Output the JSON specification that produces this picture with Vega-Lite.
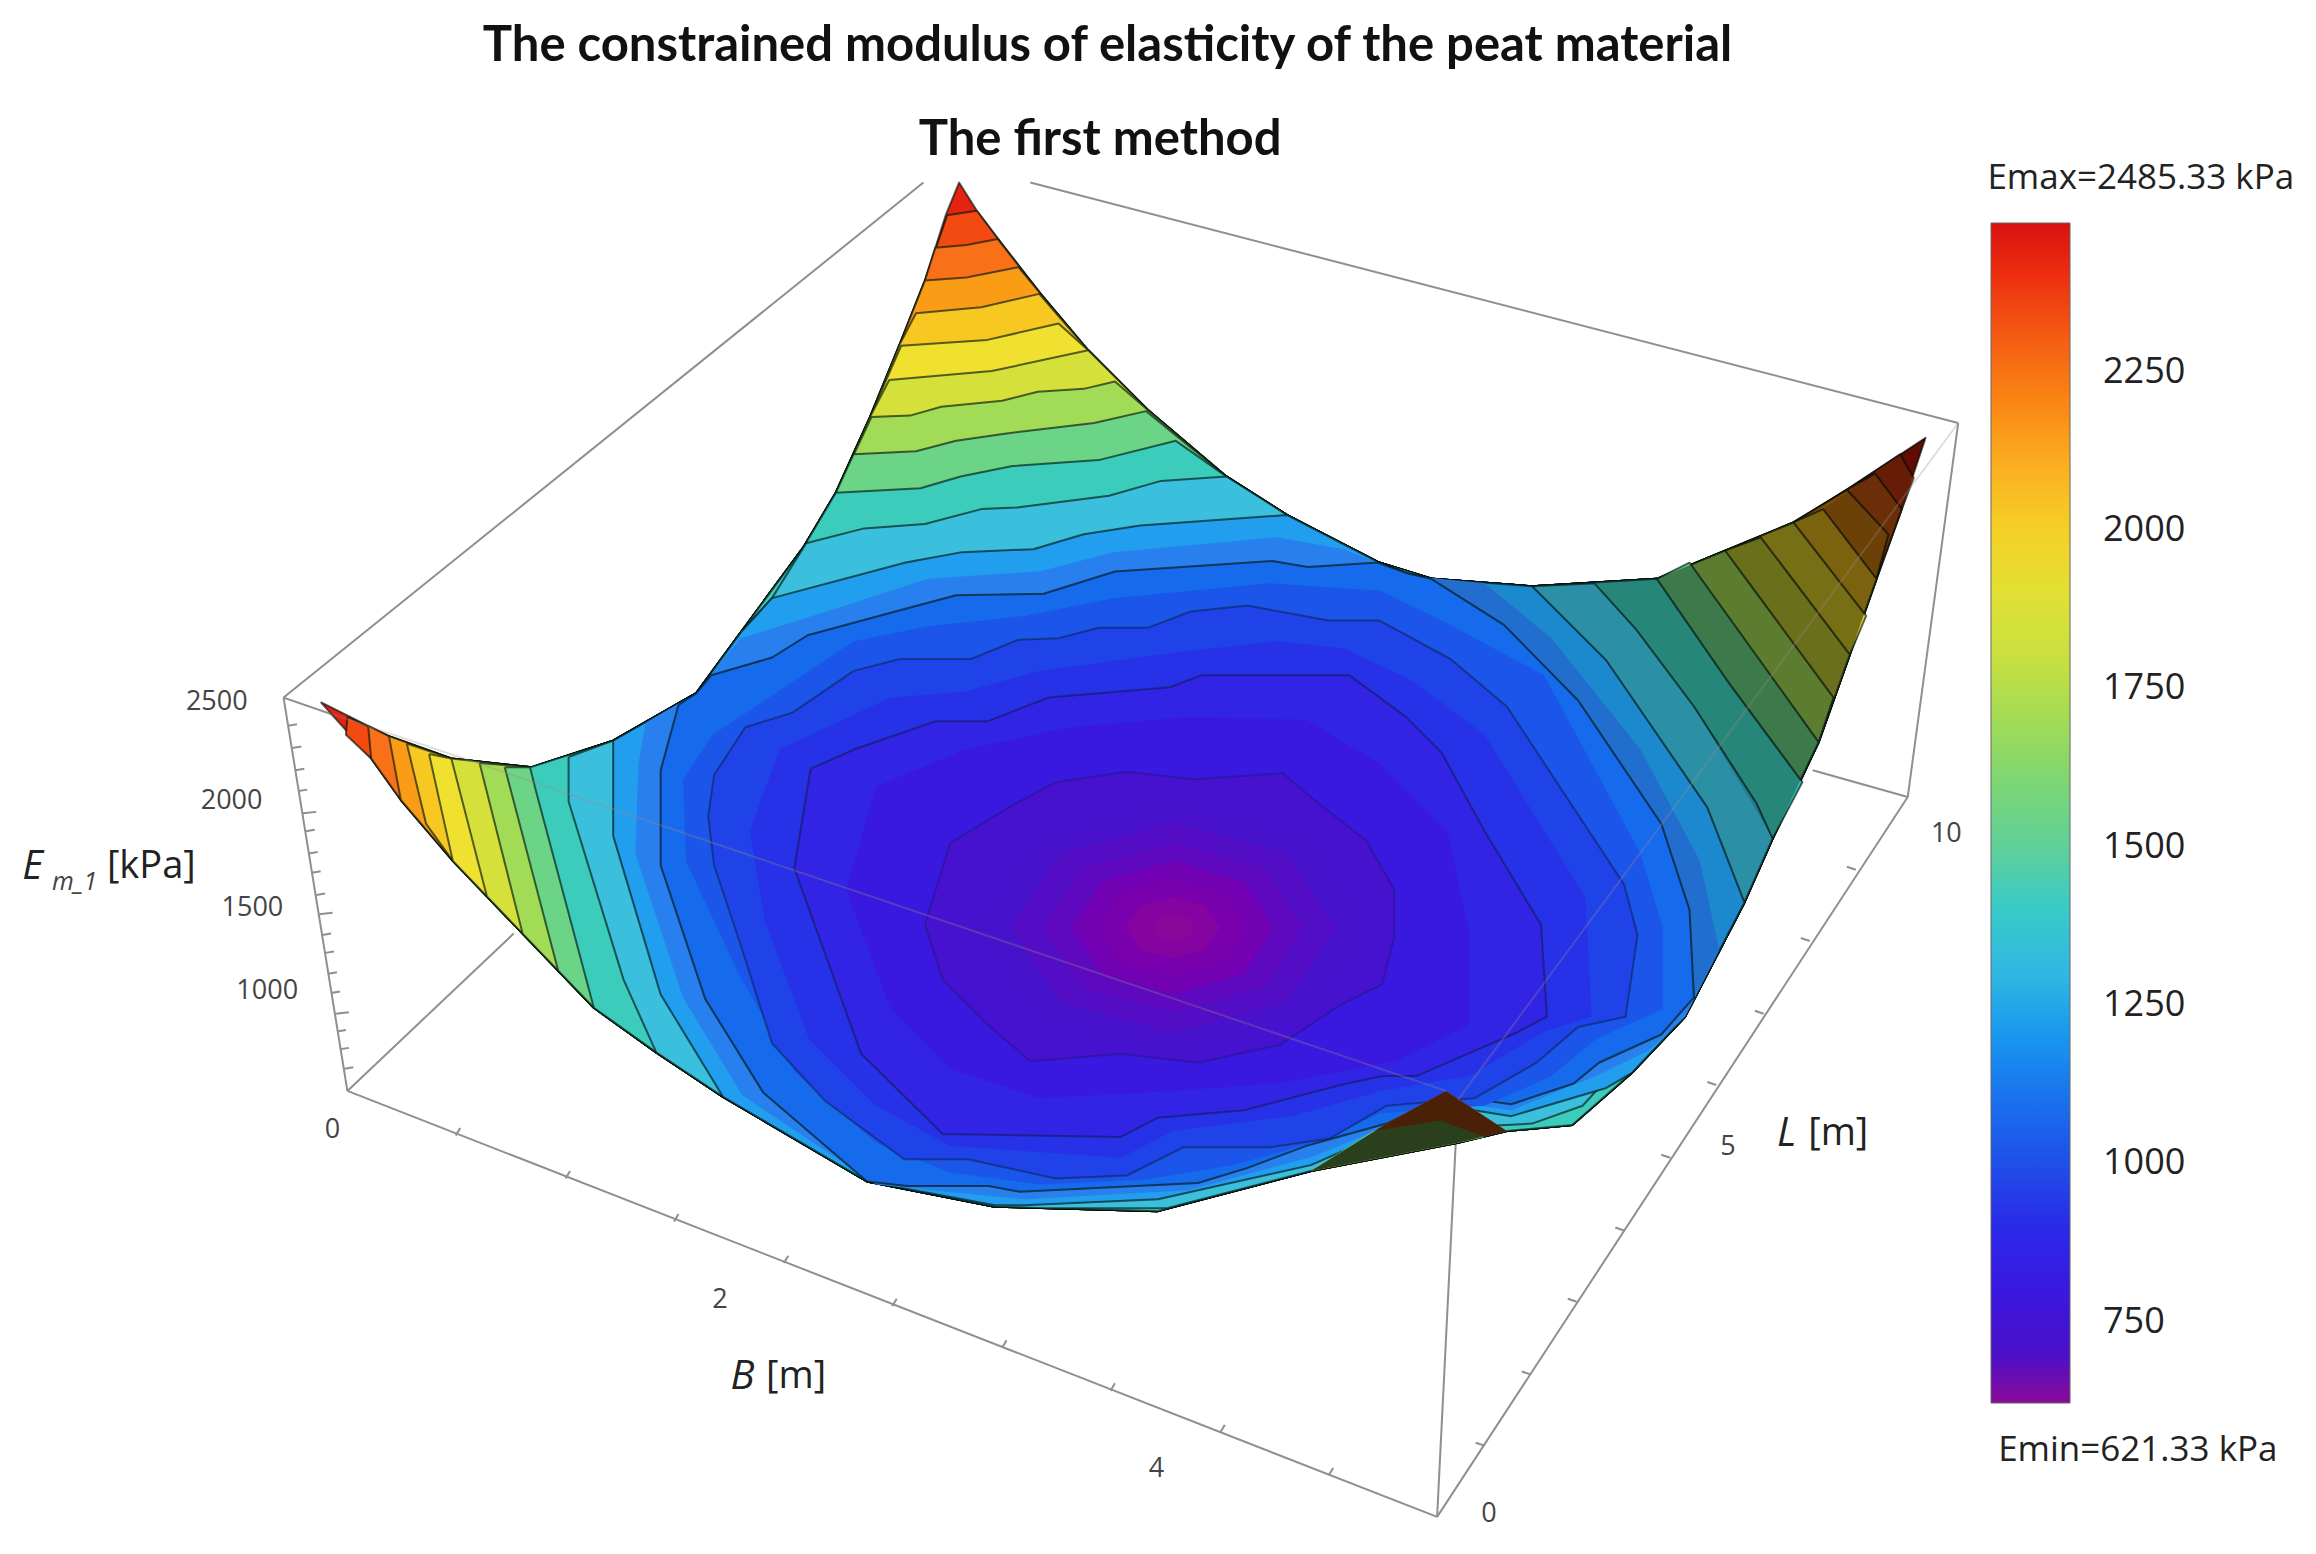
{
"$schema":"https://vega.github.io/schema/vega-lite/v6.json",
"autosize":{"type":"fit","contains":"padding"},
"width":2316,"height":1554,"padding":0,"background":"white",
"config":{"view":{"stroke":null}},
"datasets":{
"frame":[
{"s":"a","u":191,"v":470},{"s":"a","u":622,"v":123},
{"s":"b","u":694,"v":123},{"s":"b","u":1319,"v":285},
{"s":"c","u":1319,"v":285},{"s":"c","u":1285,"v":537},
{"s":"d","u":191,"v":470},{"s":"d","u":234,"v":735},
{"s":"e","u":234,"v":735},{"s":"e","u":968,"v":1022},
{"s":"f","u":968,"v":1022},{"s":"f","u":1285,"v":537},
{"s":"g","u":234,"v":735},{"s":"g","u":346,"v":629},
{"s":"h","u":1285,"v":537},{"s":"h","u":1221,"v":519},
{"s":"i","u":982,"v":741},{"s":"i","u":968,"v":1022},
{"s":"j","u":191,"v":470},{"s":"j","u":240,"v":487},
{"s":"z1","u":194,"v":489},{"s":"z1","u":200,"v":488},{"s":"z2","u":197,"v":504},{"s":"z2","u":203,"v":503},{"s":"z3","u":199,"v":519},{"s":"z3","u":205,"v":518},{"s":"z4","u":201,"v":533},{"s":"z4","u":207,"v":532},{"s":"z5","u":204,"v":548},{"s":"z5","u":213,"v":547},{"s":"z6","u":206,"v":560},{"s":"z6","u":212,"v":559},{"s":"z7","u":208,"v":575},{"s":"z7","u":214,"v":574},{"s":"z8","u":210,"v":588},{"s":"z8","u":216,"v":587},{"s":"z9","u":213,"v":603},{"s":"z9","u":219,"v":602},{"s":"z10","u":215,"v":616},{"s":"z10","u":224,"v":615},{"s":"z11","u":217,"v":630},{"s":"z11","u":223,"v":629},{"s":"z12","u":219,"v":642},{"s":"z12","u":225,"v":641},{"s":"z13","u":221,"v":656},{"s":"z13","u":227,"v":655},{"s":"z14","u":223,"v":669},{"s":"z14","u":229,"v":668},{"s":"z15","u":226,"v":683},{"s":"z15","u":235,"v":682},{"s":"z16","u":227,"v":695},{"s":"z16","u":233,"v":694},{"s":"z17","u":229,"v":707},{"s":"z17","u":235,"v":706},{"s":"z18","u":232,"v":720},{"s":"z18","u":238,"v":719},
{"s":"b1","u":307,"v":765},{"s":"b1","u":310,"v":760},{"s":"b2","u":381,"v":794},{"s":"b2","u":384,"v":789},{"s":"b3","u":454,"v":823},{"s":"b3","u":457,"v":818},{"s":"b4","u":528,"v":851},{"s":"b4","u":531,"v":846},{"s":"b5","u":601,"v":880},{"s":"b5","u":604,"v":875},{"s":"b6","u":675,"v":908},{"s":"b6","u":678,"v":903},{"s":"b7","u":748,"v":937},{"s":"b7","u":751,"v":932},{"s":"b8","u":822,"v":965},{"s":"b8","u":825,"v":960},{"s":"b9","u":895,"v":994},{"s":"b9","u":898,"v":989},
{"s":"l1","u":1000,"v":974},{"s":"l1","u":994,"v":972},{"s":"l2","u":1031,"v":926},{"s":"l2","u":1025,"v":924},{"s":"l3","u":1062,"v":877},{"s":"l3","u":1056,"v":875},{"s":"l4","u":1094,"v":829},{"s":"l4","u":1088,"v":827},{"s":"l5","u":1125,"v":780},{"s":"l5","u":1119,"v":778},{"s":"l6","u":1156,"v":731},{"s":"l6","u":1150,"v":729},{"s":"l7","u":1188,"v":683},{"s":"l7","u":1182,"v":681},{"s":"l8","u":1219,"v":634},{"s":"l8","u":1213,"v":632},{"s":"l9","u":1250,"v":586},{"s":"l9","u":1244,"v":584}
],
"surface":[
{"E":2440,"u":216,"v":473},{"E":2440,"u":248,"v":489},{"E":2440,"u":262,"v":496},{"E":2440,"u":304,"v":511},{"E":2440,"u":358,"v":517},{"E":2440,"u":413,"v":499},{"E":2440,"u":469,"v":467},{"E":2440,"u":499,"v":426},{"E":2440,"u":541,"v":369},{"E":2440,"u":563,"v":332},{"E":2440,"u":586,"v":281},{"E":2440,"u":606,"v":232},{"E":2440,"u":623,"v":189},{"E":2440,"u":637,"v":145},{"E":2440,"u":646,"v":123},{"E":2440,"u":658,"v":142},{"E":2440,"u":673,"v":162},{"E":2440,"u":701,"v":198},{"E":2440,"u":733,"v":236},{"E":2440,"u":773,"v":276},{"E":2440,"u":826,"v":321},{"E":2440,"u":867,"v":347},{"E":2440,"u":929,"v":379},{"E":2440,"u":965,"v":390},{"E":2440,"u":1032,"v":395},{"E":2440,"u":1116,"v":390},{"E":2440,"u":1162,"v":371},{"E":2440,"u":1208,"v":352},{"E":2440,"u":1244,"v":330},{"E":2440,"u":1297,"v":295},{"E":2440,"u":1281,"v":343},{"E":2440,"u":1264,"v":390},{"E":2440,"u":1246,"v":441},{"E":2440,"u":1225,"v":500},{"E":2440,"u":1194,"v":565},{"E":2440,"u":1175,"v":608},{"E":2440,"u":1135,"v":685},{"E":2440,"u":1099,"v":723},{"E":2440,"u":1059,"v":758},{"E":2440,"u":1015,"v":762},{"E":2440,"u":982,"v":770},{"E":2440,"u":883,"v":789},{"E":2440,"u":780,"v":816},{"E":2440,"u":670,"v":813},{"E":2440,"u":584,"v":796},{"E":2440,"u":487,"v":739},{"E":2440,"u":442,"v":709},{"E":2440,"u":400,"v":679},{"E":2440,"u":352,"v":629},{"E":2440,"u":305,"v":580},{"E":2440,"u":270,"v":539},{"E":2440,"u":250,"v":511},{"E":2440,"u":216,"v":473},

{"E":2350,"u":234,"v":483},{"E":2350,"u":262,"v":496},{"E":2350,"u":304,"v":511},{"E":2350,"u":358,"v":517},{"E":2350,"u":413,"v":499},{"E":2350,"u":469,"v":467},{"E":2350,"u":499,"v":426},{"E":2350,"u":541,"v":369},{"E":2350,"u":563,"v":332},{"E":2350,"u":586,"v":281},{"E":2350,"u":606,"v":232},{"E":2350,"u":623,"v":189},{"E":2350,"u":638,"v":145},{"E":2350,"u":658,"v":142},{"E":2350,"u":673,"v":162},{"E":2350,"u":701,"v":198},{"E":2350,"u":733,"v":236},{"E":2350,"u":773,"v":276},{"E":2350,"u":826,"v":321},{"E":2350,"u":867,"v":347},{"E":2350,"u":929,"v":379},{"E":2350,"u":965,"v":390},{"E":2350,"u":1032,"v":395},{"E":2350,"u":1116,"v":390},{"E":2350,"u":1162,"v":371},{"E":2350,"u":1208,"v":352},{"E":2350,"u":1244,"v":330},{"E":2350,"u":1280,"v":306},{"E":2350,"u":1289,"v":322},{"E":2350,"u":1281,"v":343},{"E":2350,"u":1264,"v":390},{"E":2350,"u":1246,"v":441},{"E":2350,"u":1225,"v":500},{"E":2350,"u":1194,"v":565},{"E":2350,"u":1175,"v":608},{"E":2350,"u":1135,"v":685},{"E":2350,"u":1099,"v":723},{"E":2350,"u":1059,"v":758},{"E":2350,"u":1015,"v":762},{"E":2350,"u":982,"v":770},{"E":2350,"u":883,"v":789},{"E":2350,"u":780,"v":816},{"E":2350,"u":670,"v":813},{"E":2350,"u":584,"v":796},{"E":2350,"u":487,"v":739},{"E":2350,"u":442,"v":709},{"E":2350,"u":400,"v":679},{"E":2350,"u":352,"v":629},{"E":2350,"u":305,"v":580},{"E":2350,"u":270,"v":539},{"E":2350,"u":250,"v":511},{"E":2350,"u":233,"v":495},{"E":2350,"u":234,"v":483},

{"E":2250,"u":248,"v":489},{"E":2250,"u":262,"v":496},{"E":2250,"u":304,"v":511},{"E":2250,"u":358,"v":517},{"E":2250,"u":413,"v":499},{"E":2250,"u":469,"v":467},{"E":2250,"u":499,"v":426},{"E":2250,"u":541,"v":369},{"E":2250,"u":563,"v":332},{"E":2250,"u":586,"v":281},{"E":2250,"u":606,"v":232},{"E":2250,"u":623,"v":189},{"E":2250,"u":630,"v":167},{"E":2250,"u":651,"v":165},{"E":2250,"u":672,"v":161},{"E":2250,"u":701,"v":198},{"E":2250,"u":733,"v":236},{"E":2250,"u":773,"v":276},{"E":2250,"u":826,"v":321},{"E":2250,"u":867,"v":347},{"E":2250,"u":929,"v":379},{"E":2250,"u":965,"v":390},{"E":2250,"u":1032,"v":395},{"E":2250,"u":1116,"v":390},{"E":2250,"u":1162,"v":371},{"E":2250,"u":1208,"v":352},{"E":2250,"u":1244,"v":330},{"E":2250,"u":1263,"v":319},{"E":2250,"u":1281,"v":343},{"E":2250,"u":1264,"v":390},{"E":2250,"u":1246,"v":441},{"E":2250,"u":1225,"v":500},{"E":2250,"u":1194,"v":565},{"E":2250,"u":1175,"v":608},{"E":2250,"u":1135,"v":685},{"E":2250,"u":1099,"v":723},{"E":2250,"u":1059,"v":758},{"E":2250,"u":1015,"v":762},{"E":2250,"u":982,"v":770},{"E":2250,"u":883,"v":789},{"E":2250,"u":780,"v":816},{"E":2250,"u":670,"v":813},{"E":2250,"u":584,"v":796},{"E":2250,"u":487,"v":739},{"E":2250,"u":442,"v":709},{"E":2250,"u":400,"v":679},{"E":2250,"u":352,"v":629},{"E":2250,"u":305,"v":580},{"E":2250,"u":270,"v":539},{"E":2250,"u":250,"v":511},{"E":2250,"u":248,"v":489},

{"E":2150,"u":262,"v":496},{"E":2150,"u":304,"v":511},{"E":2150,"u":358,"v":517},{"E":2150,"u":413,"v":499},{"E":2150,"u":469,"v":467},{"E":2150,"u":499,"v":426},{"E":2150,"u":541,"v":369},{"E":2150,"u":563,"v":332},{"E":2150,"u":586,"v":281},{"E":2150,"u":606,"v":232},{"E":2150,"u":623,"v":189},{"E":2150,"u":651,"v":187},{"E":2150,"u":686,"v":180},{"E":2150,"u":701,"v":198},{"E":2150,"u":733,"v":236},{"E":2150,"u":773,"v":276},{"E":2150,"u":826,"v":321},{"E":2150,"u":867,"v":347},{"E":2150,"u":929,"v":379},{"E":2150,"u":965,"v":390},{"E":2150,"u":1032,"v":395},{"E":2150,"u":1116,"v":390},{"E":2150,"u":1162,"v":371},{"E":2150,"u":1208,"v":352},{"E":2150,"u":1244,"v":330},{"E":2150,"u":1272,"v":360},{"E":2150,"u":1264,"v":390},{"E":2150,"u":1246,"v":441},{"E":2150,"u":1225,"v":500},{"E":2150,"u":1194,"v":565},{"E":2150,"u":1175,"v":608},{"E":2150,"u":1135,"v":685},{"E":2150,"u":1099,"v":723},{"E":2150,"u":1059,"v":758},{"E":2150,"u":1015,"v":762},{"E":2150,"u":982,"v":770},{"E":2150,"u":883,"v":789},{"E":2150,"u":780,"v":816},{"E":2150,"u":670,"v":813},{"E":2150,"u":584,"v":796},{"E":2150,"u":487,"v":739},{"E":2150,"u":442,"v":709},{"E":2150,"u":400,"v":679},{"E":2150,"u":352,"v":629},{"E":2150,"u":305,"v":580},{"E":2150,"u":270,"v":539},{"E":2150,"u":262,"v":496},

{"E":2030,"u":274,"v":501},{"E":2030,"u":304,"v":511},{"E":2030,"u":358,"v":517},{"E":2030,"u":413,"v":499},{"E":2030,"u":469,"v":467},{"E":2030,"u":499,"v":426},{"E":2030,"u":541,"v":369},{"E":2030,"u":563,"v":332},{"E":2030,"u":586,"v":281},{"E":2030,"u":606,"v":232},{"E":2030,"u":617,"v":211},{"E":2030,"u":661,"v":207},{"E":2030,"u":700,"v":198},{"E":2030,"u":733,"v":236},{"E":2030,"u":773,"v":276},{"E":2030,"u":826,"v":321},{"E":2030,"u":867,"v":347},{"E":2030,"u":929,"v":379},{"E":2030,"u":965,"v":390},{"E":2030,"u":1032,"v":395},{"E":2030,"u":1116,"v":390},{"E":2030,"u":1162,"v":371},{"E":2030,"u":1208,"v":352},{"E":2030,"u":1228,"v":343},{"E":2030,"u":1264,"v":390},{"E":2030,"u":1246,"v":441},{"E":2030,"u":1225,"v":500},{"E":2030,"u":1194,"v":565},{"E":2030,"u":1175,"v":608},{"E":2030,"u":1135,"v":685},{"E":2030,"u":1099,"v":723},{"E":2030,"u":1059,"v":758},{"E":2030,"u":1015,"v":762},{"E":2030,"u":982,"v":770},{"E":2030,"u":883,"v":789},{"E":2030,"u":780,"v":816},{"E":2030,"u":670,"v":813},{"E":2030,"u":584,"v":796},{"E":2030,"u":487,"v":739},{"E":2030,"u":442,"v":709},{"E":2030,"u":400,"v":679},{"E":2030,"u":352,"v":629},{"E":2030,"u":305,"v":580},{"E":2030,"u":287,"v":555},{"E":2030,"u":274,"v":501},

{"E":1950,"u":289,"v":508},{"E":1950,"u":304,"v":511},{"E":1950,"u":358,"v":517},{"E":1950,"u":413,"v":499},{"E":1950,"u":469,"v":467},{"E":1950,"u":499,"v":426},{"E":1950,"u":541,"v":369},{"E":1950,"u":563,"v":332},{"E":1950,"u":586,"v":281},{"E":1950,"u":607,"v":233},{"E":1950,"u":665,"v":229},{"E":1950,"u":713,"v":218},{"E":1950,"u":733,"v":236},{"E":1950,"u":773,"v":276},{"E":1950,"u":826,"v":321},{"E":1950,"u":867,"v":347},{"E":1950,"u":929,"v":379},{"E":1950,"u":965,"v":390},{"E":1950,"u":1032,"v":395},{"E":1950,"u":1116,"v":390},{"E":1950,"u":1162,"v":371},{"E":1950,"u":1208,"v":352},{"E":1950,"u":1257,"v":415},{"E":1950,"u":1246,"v":441},{"E":1950,"u":1225,"v":500},{"E":1950,"u":1194,"v":565},{"E":1950,"u":1175,"v":608},{"E":1950,"u":1135,"v":685},{"E":1950,"u":1099,"v":723},{"E":1950,"u":1059,"v":758},{"E":1950,"u":1015,"v":762},{"E":1950,"u":982,"v":770},{"E":1950,"u":883,"v":789},{"E":1950,"u":780,"v":816},{"E":1950,"u":670,"v":813},{"E":1950,"u":584,"v":796},{"E":1950,"u":487,"v":739},{"E":1950,"u":442,"v":709},{"E":1950,"u":400,"v":679},{"E":1950,"u":352,"v":629},{"E":1950,"u":305,"v":580},{"E":1950,"u":289,"v":508},

{"E":1850,"u":304,"v":511},{"E":1850,"u":358,"v":517},{"E":1850,"u":413,"v":499},{"E":1850,"u":469,"v":467},{"E":1850,"u":499,"v":426},{"E":1850,"u":541,"v":369},{"E":1850,"u":563,"v":332},{"E":1850,"u":586,"v":281},{"E":1850,"u":599,"v":256},{"E":1850,"u":668,"v":250},{"E":1850,"u":733,"v":236},{"E":1850,"u":773,"v":276},{"E":1850,"u":826,"v":321},{"E":1850,"u":867,"v":347},{"E":1850,"u":929,"v":379},{"E":1850,"u":965,"v":390},{"E":1850,"u":1032,"v":395},{"E":1850,"u":1116,"v":390},{"E":1850,"u":1162,"v":371},{"E":1850,"u":1186,"v":362},{"E":1850,"u":1246,"v":441},{"E":1850,"u":1225,"v":500},{"E":1850,"u":1194,"v":565},{"E":1850,"u":1175,"v":608},{"E":1850,"u":1135,"v":685},{"E":1850,"u":1099,"v":723},{"E":1850,"u":1059,"v":758},{"E":1850,"u":1015,"v":762},{"E":1850,"u":982,"v":770},{"E":1850,"u":883,"v":789},{"E":1850,"u":780,"v":816},{"E":1850,"u":670,"v":813},{"E":1850,"u":584,"v":796},{"E":1850,"u":487,"v":739},{"E":1850,"u":442,"v":709},{"E":1850,"u":400,"v":679},{"E":1850,"u":352,"v":629},{"E":1850,"u":328,"v":604},{"E":1850,"u":304,"v":511},

{"E":1700,"u":323,"v":514},{"E":1700,"u":358,"v":517},{"E":1700,"u":413,"v":499},{"E":1700,"u":469,"v":467},{"E":1700,"u":499,"v":426},{"E":1700,"u":541,"v":369},{"E":1700,"u":563,"v":332},{"E":1700,"u":587,"v":281},{"E":1700,"u":613,"v":280},{"E":1700,"u":634,"v":274},{"E":1700,"u":675,"v":270},{"E":1700,"u":699,"v":264},{"E":1700,"u":730,"v":262},{"E":1700,"u":751,"v":257},{"E":1700,"u":773,"v":276},{"E":1700,"u":826,"v":321},{"E":1700,"u":867,"v":347},{"E":1700,"u":929,"v":379},{"E":1700,"u":965,"v":390},{"E":1700,"u":1032,"v":395},{"E":1700,"u":1116,"v":390},{"E":1700,"u":1162,"v":371},{"E":1700,"u":1235,"v":470},{"E":1700,"u":1225,"v":500},{"E":1700,"u":1194,"v":565},{"E":1700,"u":1175,"v":608},{"E":1700,"u":1135,"v":685},{"E":1700,"u":1099,"v":723},{"E":1700,"u":1059,"v":758},{"E":1700,"u":1015,"v":762},{"E":1700,"u":982,"v":770},{"E":1700,"u":883,"v":789},{"E":1700,"u":780,"v":816},{"E":1700,"u":670,"v":813},{"E":1700,"u":584,"v":796},{"E":1700,"u":487,"v":739},{"E":1700,"u":442,"v":709},{"E":1700,"u":400,"v":679},{"E":1700,"u":352,"v":629},{"E":1700,"u":323,"v":514},

{"E":1550,"u":340,"v":517},{"E":1550,"u":358,"v":517},{"E":1550,"u":413,"v":499},{"E":1550,"u":469,"v":467},{"E":1550,"u":499,"v":426},{"E":1550,"u":541,"v":369},{"E":1550,"u":563,"v":332},{"E":1550,"u":575,"v":306},{"E":1550,"u":617,"v":304},{"E":1550,"u":644,"v":297},{"E":1550,"u":678,"v":292},{"E":1550,"u":737,"v":285},{"E":1550,"u":772,"v":277},{"E":1550,"u":826,"v":321},{"E":1550,"u":867,"v":347},{"E":1550,"u":929,"v":379},{"E":1550,"u":965,"v":390},{"E":1550,"u":1032,"v":395},{"E":1550,"u":1116,"v":390},{"E":1550,"u":1138,"v":379},{"E":1550,"u":1225,"v":500},{"E":1550,"u":1194,"v":565},{"E":1550,"u":1175,"v":608},{"E":1550,"u":1135,"v":685},{"E":1550,"u":1099,"v":723},{"E":1550,"u":1059,"v":758},{"E":1550,"u":1015,"v":762},{"E":1550,"u":982,"v":770},{"E":1550,"u":883,"v":789},{"E":1550,"u":780,"v":816},{"E":1550,"u":670,"v":813},{"E":1550,"u":584,"v":796},{"E":1550,"u":487,"v":739},{"E":1550,"u":442,"v":709},{"E":1550,"u":400,"v":679},{"E":1550,"u":376,"v":654},{"E":1550,"u":340,"v":517},

{"E":1430,"u":357,"v":517},{"E":1430,"u":413,"v":499},{"E":1430,"u":469,"v":467},{"E":1430,"u":499,"v":426},{"E":1430,"u":541,"v":369},{"E":1430,"u":563,"v":332},{"E":1430,"u":620,"v":329},{"E":1430,"u":647,"v":321},{"E":1430,"u":682,"v":314},{"E":1430,"u":740,"v":310},{"E":1430,"u":792,"v":297},{"E":1430,"u":826,"v":321},{"E":1430,"u":867,"v":347},{"E":1430,"u":929,"v":379},{"E":1430,"u":965,"v":390},{"E":1430,"u":1032,"v":395},{"E":1430,"u":1116,"v":390},{"E":1430,"u":1163,"v":458},{"E":1430,"u":1214,"v":527},{"E":1430,"u":1194,"v":565},{"E":1430,"u":1175,"v":608},{"E":1430,"u":1135,"v":685},{"E":1430,"u":1099,"v":723},{"E":1430,"u":1059,"v":758},{"E":1430,"u":1015,"v":762},{"E":1430,"u":982,"v":770},{"E":1430,"u":883,"v":789},{"E":1430,"u":780,"v":816},{"E":1430,"u":670,"v":813},{"E":1430,"u":584,"v":796},{"E":1430,"u":487,"v":739},{"E":1430,"u":442,"v":709},{"E":1430,"u":400,"v":679},{"E":1430,"u":361,"v":533},{"E":1430,"u":357,"v":517},

{"E":1330,"u":383,"v":510},{"E":1330,"u":413,"v":499},{"E":1330,"u":469,"v":467},{"E":1330,"u":499,"v":426},{"E":1330,"u":520,"v":403},{"E":1330,"u":543,"v":366},{"E":1330,"u":582,"v":356},{"E":1330,"u":623,"v":353},{"E":1330,"u":661,"v":343},{"E":1330,"u":685,"v":342},{"E":1330,"u":747,"v":334},{"E":1330,"u":782,"v":324},{"E":1330,"u":826,"v":321},{"E":1330,"u":867,"v":347},{"E":1330,"u":929,"v":379},{"E":1330,"u":965,"v":390},{"E":1330,"u":1032,"v":395},{"E":1330,"u":1074,"v":393},{"E":1330,"u":1102,"v":424},{"E":1330,"u":1141,"v":476},{"E":1330,"u":1183,"v":541},{"E":1330,"u":1194,"v":565},{"E":1330,"u":1175,"v":608},{"E":1330,"u":1135,"v":685},{"E":1330,"u":1099,"v":723},{"E":1330,"u":1077,"v":733},{"E":1330,"u":1066,"v":745},{"E":1330,"u":1032,"v":757},{"E":1330,"u":974,"v":760},{"E":1330,"u":883,"v":789},{"E":1330,"u":786,"v":814},{"E":1330,"u":704,"v":814},{"E":1330,"u":670,"v":813},{"E":1330,"u":584,"v":796},{"E":1330,"u":487,"v":739},{"E":1330,"u":442,"v":709},{"E":1330,"u":420,"v":660},{"E":1330,"u":383,"v":540},{"E":1330,"u":383,"v":510},

{"E":1220,"u":413,"v":499},{"E":1220,"u":469,"v":467},{"E":1220,"u":499,"v":426},{"E":1220,"u":520,"v":403},{"E":1220,"u":610,"v":379},{"E":1220,"u":648,"v":372},{"E":1220,"u":696,"v":370},{"E":1220,"u":730,"v":360},{"E":1220,"u":768,"v":354},{"E":1220,"u":867,"v":347},{"E":1220,"u":929,"v":379},{"E":1220,"u":947,"v":386},{"E":1220,"u":965,"v":390},{"E":1220,"u":1032,"v":395},{"E":1220,"u":1082,"v":445},{"E":1220,"u":1150,"v":544},{"E":1220,"u":1175,"v":608},{"E":1220,"u":1135,"v":685},{"E":1220,"u":1099,"v":723},{"E":1220,"u":1082,"v":733},{"E":1220,"u":1018,"v":752},{"E":1220,"u":974,"v":745},{"E":1220,"u":883,"v":785},{"E":1220,"u":780,"v":808},{"E":1220,"u":690,"v":812},{"E":1220,"u":670,"v":812},{"E":1220,"u":584,"v":796},{"E":1220,"u":487,"v":739},{"E":1220,"u":445,"v":670},{"E":1220,"u":413,"v":563},{"E":1220,"u":413,"v":499},

{"E":1145,"u":435,"v":487},{"E":1145,"u":469,"v":467},{"E":1145,"u":499,"v":430},{"E":1145,"u":560,"v":411},{"E":1145,"u":625,"v":390},{"E":1145,"u":700,"v":385},{"E":1145,"u":750,"v":372},{"E":1145,"u":860,"v":362},{"E":1145,"u":905,"v":370},{"E":1145,"u":950,"v":388},{"E":1145,"u":1000,"v":393},{"E":1145,"u":1045,"v":430},{"E":1145,"u":1105,"v":505},{"E":1145,"u":1145,"v":580},{"E":1145,"u":1158,"v":640},{"E":1145,"u":1135,"v":685},{"E":1145,"u":1110,"v":708},{"E":1145,"u":1075,"v":725},{"E":1145,"u":1018,"v":748},{"E":1145,"u":974,"v":742},{"E":1145,"u":885,"v":779},{"E":1145,"u":800,"v":802},{"E":1145,"u":690,"v":808},{"E":1145,"u":590,"v":798},{"E":1145,"u":500,"v":738},{"E":1145,"u":460,"v":672},{"E":1145,"u":428,"v":575},{"E":1145,"u":430,"v":515},

{"E":1080,"u":457,"v":475},{"E":1080,"u":469,"v":467},{"E":1080,"u":479,"v":455},{"E":1080,"u":520,"v":443},{"E":1080,"u":544,"v":428},{"E":1080,"u":603,"v":412},{"E":1080,"u":644,"v":401},{"E":1080,"u":703,"v":400},{"E":1080,"u":751,"v":385},{"E":1080,"u":857,"v":378},{"E":1080,"u":881,"v":382},{"E":1080,"u":928,"v":379},{"E":1080,"u":947,"v":386},{"E":1080,"u":964,"v":390},{"E":1080,"u":1013,"v":421},{"E":1080,"u":1063,"v":472},{"E":1080,"u":1119,"v":555},{"E":1080,"u":1138,"v":613},{"E":1080,"u":1141,"v":672},{"E":1080,"u":1119,"v":697},{"E":1080,"u":1077,"v":716},{"E":1080,"u":1060,"v":730},{"E":1080,"u":1018,"v":744},{"E":1080,"u":974,"v":738},{"E":1080,"u":934,"v":757},{"E":1080,"u":880,"v":772},{"E":1080,"u":840,"v":787},{"E":1080,"u":807,"v":797},{"E":1080,"u":687,"v":803},{"E":1080,"u":666,"v":799},{"E":1080,"u":611,"v":799},{"E":1080,"u":584,"v":796},{"E":1080,"u":514,"v":736},{"E":1080,"u":475,"v":673},{"E":1080,"u":445,"v":583},{"E":1080,"u":445,"v":519},{"E":1080,"u":457,"v":475},

{"E":1015,"u":480,"v":495},{"E":1015,"u":530,"v":462},{"E":1015,"u":575,"v":432},{"E":1015,"u":625,"v":422},{"E":1015,"u":690,"v":415},{"E":1015,"u":750,"v":403},{"E":1015,"u":855,"v":393},{"E":1015,"u":930,"v":398},{"E":1015,"u":975,"v":420},{"E":1015,"u":1040,"v":455},{"E":1015,"u":1105,"v":575},{"E":1015,"u":1120,"v":625},{"E":1015,"u":1120,"v":680},{"E":1015,"u":1075,"v":700},{"E":1015,"u":1045,"v":725},{"E":1015,"u":1000,"v":745},{"E":1015,"u":930,"v":750},{"E":1015,"u":885,"v":770},{"E":1015,"u":830,"v":785},{"E":1015,"u":770,"v":795},{"E":1015,"u":700,"v":798},{"E":1015,"u":640,"v":790},{"E":1015,"u":590,"v":770},{"E":1015,"u":535,"v":722},{"E":1015,"u":497,"v":655},{"E":1015,"u":462,"v":580},{"E":1015,"u":460,"v":525},

{"E":960,"u":502,"v":490},{"E":960,"u":534,"v":480},{"E":960,"u":575,"v":452},{"E":960,"u":606,"v":444},{"E":960,"u":654,"v":444},{"E":960,"u":686,"v":431},{"E":960,"u":713,"v":430},{"E":960,"u":740,"v":423},{"E":960,"u":773,"v":423},{"E":960,"u":802,"v":412},{"E":960,"u":840,"v":408},{"E":960,"u":895,"v":418},{"E":960,"u":929,"v":418},{"E":960,"u":977,"v":444},{"E":960,"u":1015,"v":476},{"E":960,"u":1094,"v":596},{"E":960,"u":1103,"v":630},{"E":960,"u":1095,"v":685},{"E":960,"u":1063,"v":692},{"E":960,"u":1035,"v":716},{"E":960,"u":993,"v":740},{"E":960,"u":934,"v":745},{"E":960,"u":896,"v":767},{"E":960,"u":855,"v":773},{"E":960,"u":797,"v":773},{"E":960,"u":759,"v":792},{"E":960,"u":711,"v":794},{"E":960,"u":652,"v":781},{"E":960,"u":609,"v":781},{"E":960,"u":556,"v":742},{"E":960,"u":520,"v":703},{"E":960,"u":499,"v":637},{"E":960,"u":481,"v":583},{"E":960,"u":477,"v":550},{"E":960,"u":481,"v":522},{"E":960,"u":502,"v":490},

{"E":915,"u":525,"v":505},{"E":915,"u":600,"v":470},{"E":915,"u":650,"v":466},{"E":915,"u":700,"v":452},{"E":915,"u":790,"v":440},{"E":915,"u":860,"v":432},{"E":915,"u":905,"v":437},{"E":915,"u":950,"v":458},{"E":915,"u":1000,"v":495},{"E":915,"u":1068,"v":605},{"E":915,"u":1072,"v":685},{"E":915,"u":1040,"v":695},{"E":915,"u":990,"v":725},{"E":915,"u":930,"v":735},{"E":915,"u":870,"v":752},{"E":915,"u":790,"v":762},{"E":915,"u":755,"v":780},{"E":915,"u":640,"v":772},{"E":915,"u":590,"v":745},{"E":915,"u":545,"v":700},{"E":915,"u":515,"v":620},{"E":915,"u":505,"v":560},

{"E":860,"u":546,"v":518},{"E":860,"u":575,"v":505},{"E":860,"u":630,"v":486},{"E":860,"u":665,"v":486},{"E":860,"u":706,"v":470},{"E":860,"u":788,"v":463},{"E":860,"u":809,"v":455},{"E":860,"u":909,"v":455},{"E":860,"u":947,"v":483},{"E":860,"u":971,"v":507},{"E":860,"u":1000,"v":560},{"E":860,"u":1038,"v":623},{"E":860,"u":1042,"v":685},{"E":860,"u":1021,"v":696},{"E":860,"u":954,"v":725},{"E":860,"u":931,"v":725},{"E":860,"u":903,"v":731},{"E":860,"u":838,"v":748},{"E":860,"u":780,"v":753},{"E":860,"u":755,"v":766},{"E":860,"u":635,"v":764},{"E":860,"u":580,"v":710},{"E":860,"u":535,"v":585},{"E":860,"u":546,"v":518},

{"E":805,"u":590,"v":530},{"E":805,"u":650,"v":505},{"E":805,"u":720,"v":490},{"E":805,"u":800,"v":483},{"E":805,"u":880,"v":485},{"E":805,"u":930,"v":515},{"E":805,"u":975,"v":560},{"E":805,"u":990,"v":630},{"E":805,"u":990,"v":690},{"E":805,"u":940,"v":715},{"E":805,"u":860,"v":730},{"E":805,"u":790,"v":735},{"E":805,"u":700,"v":740},{"E":805,"u":640,"v":720},{"E":805,"u":600,"v":680},{"E":805,"u":570,"v":600},

{"E":730,"u":711,"v":527},{"E":730,"u":759,"v":520},{"E":730,"u":804,"v":525},{"E":730,"u":864,"v":521},{"E":730,"u":889,"v":542},{"E":730,"u":920,"v":566},{"E":730,"u":939,"v":599},{"E":730,"u":939,"v":632},{"E":730,"u":931,"v":663},{"E":730,"u":903,"v":677},{"E":730,"u":862,"v":704},{"E":730,"u":807,"v":716},{"E":730,"u":755,"v":710},{"E":730,"u":694,"v":715},{"E":730,"u":666,"v":691},{"E":730,"u":635,"v":660},{"E":730,"u":623,"v":623},{"E":730,"u":640,"v":568},{"E":730,"u":683,"v":542},{"E":730,"u":711,"v":527},

{"E":715,"u":920,"v":625},{"E":715,"u":881,"v":685},{"E":715,"u":790,"v":710},{"E":715,"u":699,"v":685},{"E":715,"u":660,"v":625},{"E":715,"u":699,"v":565},{"E":715,"u":790,"v":540},{"E":715,"u":881,"v":565},
{"E":695,"u":899,"v":625},{"E":695,"u":866,"v":675},{"E":695,"u":790,"v":696},{"E":695,"u":714,"v":675},{"E":695,"u":681,"v":625},{"E":695,"u":714,"v":575},{"E":695,"u":790,"v":554},{"E":695,"u":866,"v":575},
{"E":685,"u":877,"v":625},{"E":685,"u":851,"v":665},{"E":685,"u":790,"v":682},{"E":685,"u":729,"v":665},{"E":685,"u":703,"v":625},{"E":685,"u":729,"v":585},{"E":685,"u":790,"v":568},{"E":685,"u":851,"v":585},
{"E":665,"u":858,"v":625},{"E":665,"u":838,"v":656},{"E":665,"u":790,"v":670},{"E":665,"u":742,"v":656},{"E":665,"u":722,"v":625},{"E":665,"u":742,"v":594},{"E":665,"u":790,"v":580},{"E":665,"u":838,"v":594},
{"E":655,"u":841,"v":625},{"E":655,"u":826,"v":648},{"E":655,"u":790,"v":658},{"E":655,"u":754,"v":648},{"E":655,"u":739,"v":625},{"E":655,"u":754,"v":602},{"E":655,"u":790,"v":592},{"E":655,"u":826,"v":602},
{"E":635,"u":822,"v":625},{"E":635,"u":812,"v":640},{"E":635,"u":790,"v":646},{"E":635,"u":768,"v":640},{"E":635,"u":758,"v":625},{"E":635,"u":768,"v":610},{"E":635,"u":790,"v":604},{"E":635,"u":812,"v":610},
{"E":625,"u":805,"v":625},{"E":625,"u":800,"v":632},{"E":625,"u":790,"v":635},{"E":625,"u":780,"v":632},{"E":625,"u":775,"v":625},{"E":625,"u":780,"v":618},{"E":625,"u":790,"v":615},{"E":625,"u":800,"v":618},

{"E":2265,"u":974,"v":735},{"E":2265,"u":1015,"v":762},{"E":2265,"u":982,"v":770},{"E":2265,"u":883,"v":789},{"E":2265,"u":934,"v":757},
{"E":1645,"u":925,"v":762},{"E":1645,"u":970,"v":755},{"E":1645,"u":1000,"v":766},{"E":1645,"u":982,"v":770},{"E":1645,"u":883,"v":789}
],
"shade":[
{"g":1,"u":964,"v":390},{"g":1,"u":1032,"v":395},{"g":1,"u":1116,"v":390},{"g":1,"u":1208,"v":352},{"g":1,"u":1297,"v":295},{"g":1,"u":1281,"v":343},{"g":1,"u":1264,"v":390},{"g":1,"u":1246,"v":441},{"g":1,"u":1225,"v":500},{"g":1,"u":1194,"v":565},{"g":1,"u":1175,"v":608},{"g":1,"u":1141,"v":672},{"g":1,"u":1138,"v":613},{"g":1,"u":1119,"v":555},{"g":1,"u":1063,"v":472},{"g":1,"u":1013,"v":421},
{"g":2,"u":1032,"v":395},{"g":2,"u":1116,"v":390},{"g":2,"u":1208,"v":352},{"g":2,"u":1297,"v":295},{"g":2,"u":1281,"v":343},{"g":2,"u":1264,"v":390},{"g":2,"u":1246,"v":441},{"g":2,"u":1225,"v":500},{"g":2,"u":1194,"v":565},{"g":2,"u":1175,"v":608},{"g":2,"u":1150,"v":544},{"g":2,"u":1082,"v":445},
{"g":3,"u":1074,"v":393},{"g":3,"u":1116,"v":390},{"g":3,"u":1208,"v":352},{"g":3,"u":1297,"v":295},{"g":3,"u":1281,"v":343},{"g":3,"u":1264,"v":390},{"g":3,"u":1246,"v":441},{"g":3,"u":1225,"v":500},{"g":3,"u":1194,"v":565},{"g":3,"u":1141,"v":476},{"g":3,"u":1102,"v":424},
{"g":4,"u":1116,"v":390},{"g":4,"u":1208,"v":352},{"g":4,"u":1297,"v":295},{"g":4,"u":1281,"v":343},{"g":4,"u":1264,"v":390},{"g":4,"u":1246,"v":441},{"g":4,"u":1225,"v":500},{"g":4,"u":1214,"v":527},{"g":4,"u":1163,"v":458},
{"g":5,"u":1162,"v":371},{"g":5,"u":1208,"v":352},{"g":5,"u":1297,"v":295},{"g":5,"u":1281,"v":343},{"g":5,"u":1264,"v":390},{"g":5,"u":1246,"v":441},{"g":5,"u":1235,"v":470},
{"g":6,"u":1228,"v":343},{"g":6,"u":1297,"v":295},{"g":6,"u":1281,"v":343},{"g":6,"u":1264,"v":390}
],
"arm":[
{"g":1,"u":974,"v":735},{"g":1,"u":1015,"v":762},{"g":1,"u":982,"v":770},{"g":1,"u":883,"v":789},{"g":1,"u":934,"v":757}
],
"faint":[
{"s":"a","u":191,"v":470},{"s":"a","u":974,"v":735},
{"s":"b","u":1319,"v":285},{"s":"b","u":982,"v":741}
]
},
"encoding":{
"x":{"field":"u","type":"quantitative","axis":null,"scale":{"domain":[0,1560],"nice":false,"zero":false}},
"y":{"field":"v","type":"quantitative","axis":null,"scale":{"domain":[1047,0],"nice":false,"zero":false}}
},
"layer":[
{"data":{"name":"frame"},"mark":{"type":"line","color":"#8f8f8f","strokeWidth":2},"encoding":{"detail":{"field":"s","type":"nominal"},"order":{"value":null}}},
{"data":{"name":"surface"},
 "mark":{"type":"line","filled":true,"stroke":"#04150f","strokeWidth":2,"strokeJoin":"round"},
 "encoding":{
  "detail":{"field":"E","type":"nominal"},
  "order":{"value":null},
  "strokeOpacity":{"condition":[{"test":"datum.E % 10 != 0","value":0},{"test":"datum.E < 800","value":0.22},{"test":"datum.E < 1000","value":0.4}],"value":0.65},
  "color":{"field":"E","type":"quantitative",
   "scale":{"domain":[621.33,700,800,900,1000,1150,1250,1350,1500,1650,1800,1950,2100,2250,2400,2485.33],
    "range":["#8a0a9a","#4a10c8","#3a18e0","#2a2ae8","#1f4fe8","#2a80ee","#35aaea","#45c4d8","#60d098","#90d860","#c8e040","#f0e030","#fbb020","#f87018","#ee3010","#d81010"]},
   "legend":{"orient":"none","legendX":1991,"legendY":223,"title":null,"type":"gradient","gradientLength":1180,"gradientThickness":79,"gradientStrokeColor":"#666","gradientStrokeWidth":1,"values":[750,1000,1250,1500,1750,2000,2250],"format":"d","labelFont":"Open Sans","labelFontSize":36,"labelColor":"#222","labelOffset":33}}
 }},
{"data":{"name":"shade"},"mark":{"type":"line","filled":true,"color":"#000","opacity":0.13,"strokeWidth":0},"encoding":{"detail":{"field":"g","type":"nominal"},"order":{"value":null}}},
{"data":{"name":"arm"},"mark":{"type":"line","filled":true,"color":"#000","opacity":0.7,"strokeWidth":0},"encoding":{"detail":{"field":"g","type":"nominal"},"order":{"value":null}}},
{"data":{"name":"faint"},"mark":{"type":"line","color":"#a08a8a","opacity":0.3,"strokeWidth":2},"encoding":{"detail":{"field":"s","type":"nominal"},"order":{"value":null}}},
{"data":{"values":[{"u":746,"v":31,"t":"The constrained modulus of elasticity of the peat material"},{"u":741,"v":94,"t":"The first method"}]},
 "mark":{"type":"text","font":"Lato","fontWeight":"bold","fontSize":49,"color":"#111"},"encoding":{"text":{"field":"t"}}},
{"data":{"values":[{"u":1442,"v":120,"t":"Emax=2485.33 kPa"},{"u":1440,"v":977,"t":"Emin=621.33 kPa"}]},
 "mark":{"type":"text","font":"Open Sans","fontSize":35,"color":"#222"},"encoding":{"text":{"field":"t"}}},
{"data":{"values":[{"u":146,"v":473,"t":"2500"},{"u":156,"v":540,"t":"2000"},{"u":170,"v":612,"t":"1500"},{"u":180,"v":668,"t":"1000"},{"u":224,"v":761,"t":"0"},{"u":485,"v":876,"t":"2"},{"u":779,"v":990,"t":"4"},{"u":1003,"v":1020,"t":"0"},{"u":1164,"v":773,"t":"5"},{"u":1311,"v":562,"t":"10"}]},
 "mark":{"type":"text","font":"Open Sans","fontSize":27,"color":"#444"},"encoding":{"text":{"field":"t"}}},
{"data":{"values":[{"u":15,"v":584,"t":"E"},{"u":492,"v":928,"t":"B"},{"u":1197,"v":764,"t":"L"}]},
 "mark":{"type":"text","font":"Open Sans","fontStyle":"italic","fontSize":40,"color":"#222","align":"left"},"encoding":{"text":{"field":"t"}}},
{"data":{"values":[{"u":35,"v":594,"t":"m_1"}]},
 "mark":{"type":"text","font":"Open Sans","fontStyle":"italic","fontSize":25,"color":"#444","align":"left"},"encoding":{"text":{"field":"t"}}},
{"data":{"values":[{"u":72,"v":584,"t":"[kPa]"},{"u":516,"v":928,"t":"[m]"},{"u":1218,"v":764,"t":"[m]"}]},
 "mark":{"type":"text","font":"Open Sans","fontSize":38,"color":"#222","align":"left"},"encoding":{"text":{"field":"t"}}}
]
}
